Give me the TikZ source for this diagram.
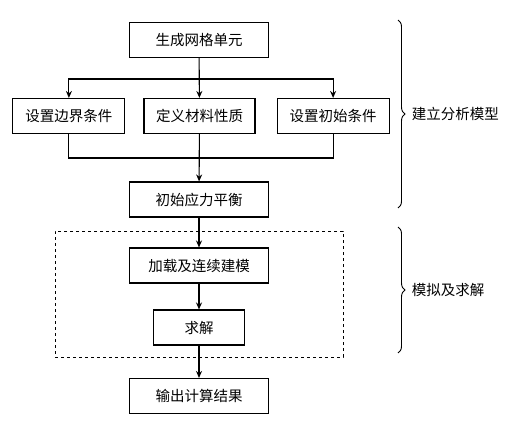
\documentclass[tikz,border=0pt]{standalone}
\usepackage{fontspec}
\newfontfamily\cjk{Noto Sans CJK SC}
\usepackage{tikz}
\usetikzlibrary{positioning,arrows.meta,decorations.pathreplacing}
\tikzstyle{passo} = [rectangle,minimum width=139pt,minimum height=35pt,text centered,draw=black,line width=1.1pt,fill=white,text=black]
\tikzstyle{passocorto} = [passo,minimum width=112pt]
\tikzstyle{linea} = [line width=1.1pt]
\tikzstyle{arrow} = [line width=1.1pt,-{Stealth[length=7pt,width=6pt]}]
\tikzstyle{graffa} = [line width=0.9pt,decorate,decoration={brace,amplitude=7pt}]

\begin{document}
\begin{tikzpicture}[x=1pt,y=-1pt]
\tikzstyle{every node}=[font=\cjk\fontsize{14.5}{17}\selectfont]
\useasboundingbox (0,0) rectangle (526,423);

\node (mesh)  [passo] at (199,40) {生成网格单元};
\node (mat)   [passocorto,minimum width=111pt] at (199.5,116) {定义材料性质};
\node (bound) [passocorto,left=18pt of mat] {设置边界条件};
\node (init)  [passocorto,right=21pt of mat] {设置初始条件};
\node (stress) [passo] at (199,199.5) {初始应力平衡};
\node (load)  [passo] at (199,265.5) {加载及连续建模};
\node (solve) [passo,minimum width=91pt] at (199,327.5) {求解};
\node (out)   [passo] at (199,396) {输出计算结果};

\coordinate (split) at (199,79);
\coordinate (merge) at (199,158);

\draw[arrow] (mesh) -- (mat);
\draw[arrow] (split) -| (bound);
\draw[arrow] (split) -| (init);
\draw[linea] (bound.south) |- (merge) -| (init.south);
\draw[arrow] (mat) -- (stress);
\draw[arrow] (stress) -- (load);
\draw[arrow] (load) -- (solve);
\draw[arrow] (solve) -- (out);

\node (sim) [draw,dashed,line width=1pt,minimum width=288pt,minimum height=126pt] at (199,294) {};

\draw[graffa] (398,20) -- (398,208) node (b1) [midway,right=10pt] {建立分析模型};
\draw[graffa] (398,227) -- (398,353) node (b2) [midway,right=10pt] {模拟及求解};
\end{tikzpicture}
\end{document}
